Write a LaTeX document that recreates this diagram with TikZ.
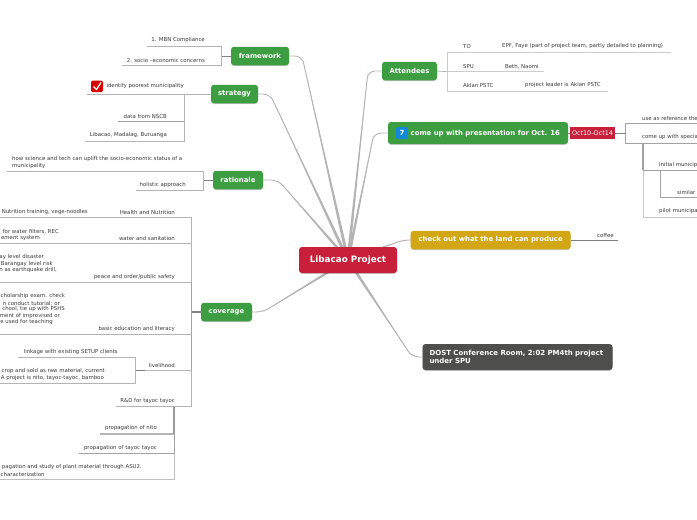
\documentclass[tikz,border=0pt]{standalone}
\usepackage{fontspec}
\setmainfont{DejaVu Sans}
\usetikzlibrary{calc,shadows}
\pgfdeclarelayer{bg}
\pgfsetlayers{bg,main}
\definecolor{tgreen}{HTML}{3D9D41}
\definecolor{tred}{HTML}{C8203A}
\definecolor{tgold}{HTML}{D2A614}
\definecolor{tdark}{HTML}{4E4E4C}
\definecolor{tline}{HTML}{B4B4B4}
\definecolor{ttext}{HTML}{3A3A3A}
\definecolor{tblue}{HTML}{1288D8}
\tikzset{
  x=1pt,y=-1pt,
  topic/.style={rounded corners=3,fill=#1,text=white,inner sep=0pt,font=\fontsize{6.9}{8.4}\selectfont\bfseries,
    drop shadow={shadow xshift=0pt,shadow yshift=-0.8pt,opacity=.22,fill=black}},
  lab/.style={text=ttext,inner sep=0pt,yshift=-0.5pt,font=\fontsize{5.4}{6.6}\selectfont},
  leaf/.style={draw=tline,line width=.8pt},
  stem/.style={draw=black!50,line width=1pt},
  spine/.style={draw=black!36,line width=1pt},
  twig/.style={draw=tline,line width=.9pt,rounded corners=7},
}
\newcommand{\branch}[2]{%
  \fill[tline] ($(root.center)!1.6pt!90:(#2)$) -- (#2) -- ($(root.center)!1.6pt!-90:(#2)$) -- cycle;
  \draw[twig] (root.center) -- (#2) -- (#1.west);}
\newcommand{\pt}[3]{\coordinate (#1) at (#2,#3);}
\begin{document}
\begin{tikzpicture}
\useasboundingbox (0,0) rectangle (697,520);
\clip (0,0) rectangle (697,520);

% main nodes
\node[topic=tred,minimum width=98,minimum height=26,font=\fontsize{8.8}{10}\selectfont\bfseries] (root) at (348,260) {Libacao Project};
\node[topic=tgreen,minimum width=58,minimum height=18.5] (framework) at (260,56) {framework};
\node[topic=tgreen,minimum width=47,minimum height=18.5] (strategy) at (234.5,94) {strategy};
\node[topic=tgreen,minimum width=50,minimum height=18.5] (rationale) at (238,180) {rationale};
\node[topic=tgreen,minimum width=51,minimum height=18.5] (coverage) at (226.5,312) {coverage};
\node[topic=tgreen,minimum width=55,minimum height=18.5] (attendees) at (409.5,71) {Attendees};
\node[topic=tgreen,minimum width=180,minimum height=22] (present) at (478,133) {};
\node[topic=tgold,minimum width=160,minimum height=18.5] (land) at (490.7,240) {check out what the land can produce};
\node[topic=tdark,minimum width=190,minimum height=26,align=left,text width=176,font=\fontsize{7}{8.2}\selectfont\bfseries] (dost) at (517.5,357) {DOST Conference Room, 2:02 PM4th project\\under SPU};
\node[fill=tred,text=white,inner sep=0pt,minimum width=45,minimum height=11.5,font=\fontsize{6.4}{7}\selectfont] (oct) at (592.5,133) {Oct10-Oct14};
\node[fill=tblue,rounded corners=1.5,text=white,inner sep=0pt,minimum width=12,minimum height=12,font=\fontsize{7}{8}\selectfont\bfseries] (seven) at (402,133) {7};
\node[text=white,inner sep=0pt,anchor=west,font=\fontsize{6.9}{8}\selectfont\bfseries] (presentlab) at (410.5,133.5) {come up with presentation for Oct. 16};

% branches
\begin{pgfonlayer}{bg}
\pt{bf}{302}{56}\pt{bs}{270}{94}\pt{br}{278}{180}\pt{bc}{263}{312}
\pt{ba}{368}{71}\pt{bp}{374}{133}\pt{bl}{403}{240}\pt{bd}{412}{357}
\branch{framework}{bf}\branch{strategy}{bs}\branch{rationale}{br}\branch{coverage}{bc}
\branch{attendees}{ba}\branch{present}{bp}\branch{land}{bl}\branch{dost}{bd}
\end{pgfonlayer}

% framework
\node[lab,anchor=east] (f1) at (205,40) {1. MBN Compliance};
\node[lab,anchor=east] (f2) at (205,60) {2. socio –economic concerns};
\pt{jf}{221}{56}\pt{lf1}{147}{46}\pt{lf2}{122}{65}
\draw[stem] (framework.west) -- (jf);
\draw[leaf] (jf) |- (lf1);
\draw[leaf] (jf) |- (lf2);

% strategy
\node[lab,anchor=east] (s1) at (184,86) {identify poorest municipality};
\node[lab,anchor=east] (s2) at (167,116) {data from NSCB};
\node[lab,anchor=east] (s3) at (167,135) {Libacao, Madalag, Buruanga};
\pt{js}{184}{94}\pt{ls1}{87}{94}\pt{ls2}{118}{121}\pt{ls3}{85}{141}
\draw[leaf] (strategy.west) -- (ls1);
\draw[spine,line width=.8pt] (js) |- (ls2);
\draw[leaf] (js) |- (ls3);
\fill[red!85!black,rounded corners=1.5] (91,80.5) rectangle (103,92);
\draw[white,line width=1.2pt] (93.5,86.5) -- (96.5,89.5) -- (101,82.5);

% rationale
\node[lab,anchor=west,align=left] (r1) at (12,162) {how science and tech can uplift the socio-economic status of a\\municipality};
\node[lab,anchor=east] (r2) at (186,185) {holistic approach};
\pt{jr}{203}{180}\pt{lr1}{7}{171}\pt{lr2}{136}{190}
\draw[stem] (rationale.west) -- (jr);
\draw[leaf] (jr) |- (lr1);
\draw[leaf] (jr) |- (lr2);

% coverage
\pt{jc}{191.5}{312}\pt{lc1}{0}{217.3}\pt{lc2}{0}{243.3}\pt{lc3}{0}{282.3}\pt{lc4}{0}{334}\pt{lc5}{135}{370.3}\pt{lc6}{116}{406.7}
\draw[leaf] (jc) |- (lc1);
\draw[leaf] (jc) |- (lc2);
\draw[leaf] (jc) |- (lc3);
\draw[leaf] (jc) |- (lc4);
\draw[leaf] (jc) |- (lc5);
\draw[leaf] (jc) |- (lc6);
\draw[spine] (jc) -- (191.5,282.3);
\draw[spine] (jc) -- (191.5,370.3);
\draw[stem,line width=1.2pt] (coverage.west) -- (jc);
\node[lab,anchor=east] (c1) at (175,212) {Health and Nutrition};
\node[lab,anchor=east] (c1a) at (88,212) {Nutrition training, vege-noodles};
\node[lab,anchor=east] (c2) at (175,238) {water and sanitation};
\node[lab,anchor=east] (c2a) at (59,231) {for water filters, REC};
\node[lab,anchor=east] (c2b) at (40,238) {ement system};
\node[lab,anchor=east] (c3) at (175,277) {peace and order/public safety};
\node[lab,anchor=east] (c3a) at (44,257) {ay level disaster};
\node[lab,anchor=east] (c3b) at (53,264) {Barangay level risk};
\node[lab,anchor=east] (c3c) at (57,270) {n as earthquake drill,};
\node[lab,anchor=east] (c4) at (175,329) {basic education and literacy};
\node[lab,anchor=west] (c4a) at (0.5,296) {cholarship exam. check};
\node[lab,anchor=east] (c4b) at (60,303) {n conduct tutorial; or};
\node[lab,anchor=east] (c4c) at (65,309) {chool, tie up with PSHS};
\node[lab,anchor=east] (c4d) at (60,316) {ment of improvised or};
\node[lab,anchor=east] (c4e) at (53,322) {e used for teaching};
\node[lab,anchor=east] (c5) at (175,365) {livelihood};
\node[lab,anchor=east] (c5a) at (118,352) {linkage with existing SETUP clients};
\node[lab,anchor=east] (c5b) at (105,371) {crop and sold as raw material, current};
\node[lab,anchor=east] (c5c) at (104,378) {A project is nito, tayoc-tayoc, bamboo};
\node[lab,anchor=east] (c6) at (175,401) {R\&D for tayoc tayoc};
\node[lab,anchor=east] (c6a) at (157,428) {propagation of nito};
\node[lab,anchor=east] (c6b) at (157,448) {propagation of tayoc tayoc};
\node[lab,anchor=east] (c6c) at (142,467) {pagation and study of plant material through ASU2.};
\node[lab,anchor=west] (c6d) at (0.5,474) {characterization};
% livelihood sub-branch
\pt{jl}{135}{370.3}\pt{ll1}{18}{357.3}\pt{ll2}{0}{383.3}
\draw[stem,line width=.8pt] (jl) -- (145,370.3);
\draw[leaf] (jl) |- (ll1);
\draw[leaf] (jl) |- (ll2);
% R&D sub-branch
\pt{jd}{174}{406.7}\pt{ld1}{100}{434}\pt{ld2}{79}{453.3}\pt{ld3}{0}{479.3}
\draw[draw=black!25,line width=.8pt] (jd) |- (ld3);
\draw[draw=tline,line width=1.2pt] (jd) |- (ld1);
\draw[draw=black!36,line width=.8pt] (jd) |- (ld2);
\draw[draw=black!40,line width=1.3pt] (jd) -- (174,434);

% attendees
\pt{ja}{447}{71.7}\pt{la1}{671}{52.3}\pt{la2}{544}{71.7}\pt{la3}{608}{91.3}
\draw[leaf] (attendees.east) -- (ja);
\draw[draw=black!20,line width=.8pt] (ja) |- (la1);
\draw[draw=black!20,line width=.8pt] (ja) |- (la2);
\draw[draw=black!20,line width=.8pt] (ja) |- (la3);
\node[lab,anchor=west] (a1) at (463,46) {TO};
\node[lab,anchor=west] (a1b) at (502,46) {EPF, Faye (part of project team, partly detailed to planning)};
\node[lab,anchor=west] (a2) at (463,66) {SPU};
\node[lab,anchor=west] (a2b) at (505,66) {Beth, Naomi};
\node[lab,anchor=west] (a3) at (463,85) {Aklan PSTC};
\node[lab,anchor=west] (a3b) at (525,85) {project leader is Aklan PSTC};

% presentation
\draw[draw=black!50,line width=.5pt] (present.east) -- (oct.west);
\pt{jo}{625.7}{133}\pt{lo1}{697}{123.3}\pt{lo2}{697}{143}
\draw[stem] (oct.east) -- (jo);
\draw[leaf,draw=black!36] (jo) |- (lo1);
\draw[leaf,draw=black!36] (jo) |- (lo2);
\node[lab,anchor=west] (o1) at (642,118) {use as reference the};
\node[lab,anchor=west] (o2) at (642,137) {come up with specia};
\pt{jp}{643}{143}\pt{lp1}{697}{170.3}\pt{lp2}{697}{217}
\draw[draw=black!22,line width=.9pt] (jp) |- (lp2);
\draw[draw=black!36,line width=.8pt] (jp) |- (lp1);
\draw[draw=black!36,line width=1.4pt] (jp) -- (643,170.3);
\node[lab,anchor=west] (o3) at (659,165) {initial municip};
\node[lab,anchor=west] (o4) at (677,192) {similar};
\node[lab,anchor=west] (o5) at (659,211) {pilot municipa};
\pt{jq}{660.3}{170.3}\pt{lq}{697}{197.5}
\draw[draw=black!36,line width=.7pt] (jq) |- (lq);

% land
\pt{lco}{618}{240}
\draw[draw=black!50,line width=.7pt] (land.east) -- (lco);
\node[lab,anchor=east] (co) at (614,235) {coffee};
\end{tikzpicture}
\end{document}
